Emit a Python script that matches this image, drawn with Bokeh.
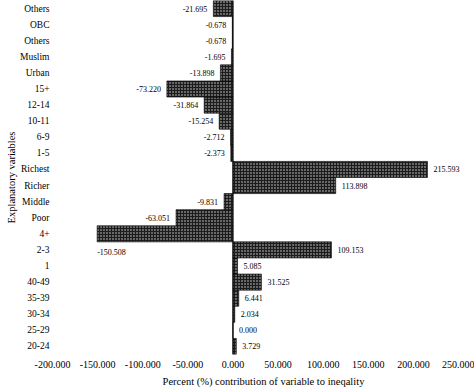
from bokeh.plotting import figure
from bokeh.models import Range1d, FixedTicker, NumeralTickFormatter, Span, ColumnDataSource
from bokeh.embed import file_html
from bokeh.resources import INLINE
from bokeh.core.properties import value

# bottom to top
categories = ["20-24", "25-29", "30-34", "35-39", "40-49", "1", "2-3", "4+",
              "Poor", "Middle", "Richer", "Richest", "1-5", "6-9", "10-11",
              "12-14", "15+", "Urban", "Muslim", "Others", "OBC", "Others"]
values = [3.729, 0.000, 2.034, 6.441, 31.525, 5.085, 109.153, -150.508,
          -63.051, -9.831, 113.898, 215.593, -2.373, -2.712, -15.254,
          -31.864, -73.220, -13.898, -1.695, -0.678, -0.678, -21.695]
x_ticks = [-200, -150, -100, -50, 0, 50, 100, 150, 200, 250]

ys = list(range(len(categories)))
src = ColumnDataSource(dict(y=ys, v=values))

vmin = min(values)
aligns, xo, yo = [], [], []
for v in values:
    if v == vmin:
        aligns.append("left"); xo.append(0); yo.append(18)
    elif v < 0:
        aligns.append("right"); xo.append(-6); yo.append(0)
    else:
        aligns.append("left"); xo.append(6); yo.append(0)
lsrc = ColumnDataSource(dict(y=ys, v=values, lab=[f"{v:.3f}" for v in values],
                             align=aligns, xo=xo, yo=yo))

FONT = "Liberation Serif"
W, H = 474, 389
LEFT, BOTTOM = 52, 32
x_end = 250 + (W - 458) * 450 / (458 - LEFT)

p = figure(width=W, height=H, output_backend="svg", toolbar_location=None,
           x_range=Range1d(-200, x_end), y_range=Range1d(-0.5, 21.5),
           min_border=0, min_border_left=LEFT, min_border_bottom=BOTTOM)
p.outline_line_color = None
p.xgrid.visible = False
p.ygrid.visible = False

p.hbar(y="y", left=0, right="v", height=1.0, source=src,
       fill_color="#1c1c1c", line_color="black", line_width=0.6,
       hatch_pattern="dot", hatch_color="#d8d8d8", hatch_scale=3, hatch_weight=1)

p.add_layout(Span(location=0, dimension="height", line_color="black", line_width=1))

p.text(x="v", y="y", text="lab", text_align="align", x_offset="xo", y_offset="yo",
       text_baseline="middle", text_font=value(FONT), text_font_size="8px",
       text_color="black", source=lsrc)

xa = p.xaxis[0]
xa.ticker = FixedTicker(ticks=x_ticks)
xa.formatter = NumeralTickFormatter(format="0.000")
xa.axis_line_color = None
xa.major_tick_line_color = None
xa.minor_tick_line_color = None
xa.major_tick_out = 0
xa.major_tick_in = 0
xa.minor_tick_out = 0
xa.major_label_text_font = FONT
xa.major_label_text_font_size = "10px"
xa.major_label_text_color = "black"
xa.major_label_standoff = 6
xa.axis_label = "Percent (%) contribution of variable to ineqality"
xa.axis_label_text_font = FONT
xa.axis_label_text_font_size = "10.5px"
xa.axis_label_text_font_style = "normal"
xa.axis_label_text_color = "black"
xa.axis_label_standoff = 5

ya = p.yaxis[0]
ya.ticker = FixedTicker(ticks=ys)
ya.major_label_overrides = {i: c for i, c in zip(ys, categories)}
ya.axis_line_color = None
ya.major_tick_line_color = None
ya.minor_tick_line_color = None
ya.major_tick_out = 0
ya.major_tick_in = 0
ya.minor_tick_out = 0
ya.major_label_text_font = FONT
ya.major_label_text_font_size = "9.5px"
ya.major_label_text_color = "black"
ya.major_label_standoff = 3
ya.axis_label = "Explanatory variables"
ya.axis_label_text_font = FONT
ya.axis_label_text_font_size = "10.5px"
ya.axis_label_text_font_style = "normal"
ya.axis_label_text_color = "black"
ya.axis_label_standoff = 0

open("out.html", "w").write(file_html(p, INLINE))
